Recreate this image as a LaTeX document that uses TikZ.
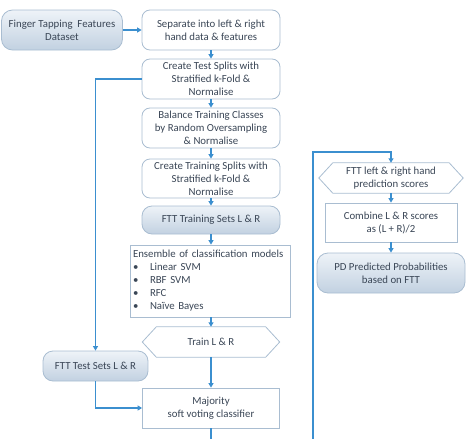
\documentclass[tikz,border=0pt]{standalone}
\usepackage{fontspec}
\setmainfont{Carlito}
\usetikzlibrary{arrows.meta,calc}
\definecolor{txt}{HTML}{3A4656}
\definecolor{bord}{HTML}{A9BDD1}
\definecolor{conn}{HTML}{3B8FCF}
\definecolor{gtop}{HTML}{EEF3F8}
\definecolor{gbot}{HTML}{C2D1E1}
\tikzset{
  base/.style={inner sep=0pt, align=center, text=txt, font=\fontsize{10.8}{13}\selectfont},
  whitebox/.style={base, draw=bord, line width=0.8pt, rounded corners=8pt, fill=white},
  gradbox/.style={base, draw=bord, line width=0.8pt, rounded corners=11pt, top color=gtop, bottom color=gbot},
  rectbox/.style={base, draw=bord, line width=0.8pt, fill=white},
  hexnode/.style={base},
  hexline/.style={draw=bord, line width=0.8pt},
  link/.style={draw=conn, line width=1.1pt, -{Triangle[width=5pt,length=4.5pt]}},
}
\begin{document}
\begin{tikzpicture}[x=1pt,y=-1pt]
\useasboundingbox (0,0) rectangle (474,439);
% left column
\node[gradbox, minimum width=121pt, minimum height=40pt] (fin) at (62,30) {Finger Tapping\ \ Features\\Dataset};
\node[whitebox, minimum width=138pt, minimum height=40pt] (sep) at (211,30) {Separate into left \& right\\hand data \& features};
\node[whitebox, minimum width=138pt, minimum height=40pt] (cts) at (211,79) {Create Test Splits with\\Stratified k-Fold \&\\Normalise};
\node[whitebox, minimum width=138pt, minimum height=40pt] (bal) at (211,128) {Balance Training Classes\\by Random Oversampling\\\& Normalise};
\node[whitebox, minimum width=138pt, minimum height=39pt] (ctr) at (211,178.5) {Create Training Splits with\\Stratified k-Fold \&\\Normalise};
\node[gradbox, minimum width=138pt, minimum height=28pt, rounded corners=10pt] (fts) at (211,220) {FTT Training Sets L \& R};
\node[rectbox, minimum width=160pt, minimum height=72pt, text width=154pt, align=left, inner xsep=3pt] (ens) at (210,281) {Ensemble of classification models\\
\makebox[17pt][l]{\textbullet}Linear SVM\\
\makebox[17pt][l]{\textbullet}RBF SVM\\
\makebox[17pt][l]{\textbullet}RFC\\
\makebox[17pt][l]{\textbullet}Naïve Bayes};
\node[hexnode, minimum width=137pt, minimum height=30pt] (trn) at (211,342) {Train L \& R};
\draw[hexline] (trn.west) -- ([xshift=14pt]trn.north west) -- ([xshift=-14pt]trn.north east) -- (trn.east) -- ([xshift=-14pt]trn.south east) -- ([xshift=14pt]trn.south west) -- cycle;
\node[gradbox, minimum width=105pt, minimum height=30pt, rounded corners=10pt] (fte) at (95.5,366) {FTT Test Sets L \& R};
\node[rectbox, minimum width=137pt, minimum height=40pt] (maj) at (211,408) {Majority\\soft voting classifier};
% right column
\node[hexnode, minimum width=144pt, minimum height=30pt] (flr) at (391,178) {FTT left \& right hand\\prediction scores};
\draw[hexline] (flr.west) -- ([xshift=14pt]flr.north west) -- ([xshift=-14pt]flr.north east) -- (flr.east) -- ([xshift=-14pt]flr.south east) -- ([xshift=14pt]flr.south west) -- cycle;
\node[rectbox, minimum width=132pt, minimum height=39pt] (cmb) at (391,222.5) {Combine L \& R scores\\as (L + R)/2};
\node[gradbox, minimum width=148pt, minimum height=40pt] (pdp) at (391,273) {PD Predicted Probabilities\\based on FTT};
% connectors
\draw[link] (fin) -- (sep);
\draw[link] (sep) -- (cts);
\draw[link] (cts) -- (bal);
\draw[link] (bal) -- (ctr);
\draw[link] (ctr) -- (fts);
\draw[link] (fts.south) -- (fts.south |- ens.north);
\draw[link] (ens.south -| trn.north) -- (trn.north);
\draw[link] (trn.south) -- (maj.north);
\draw[link] (cts.west) -| (fte.north);
\draw[link] (fte.south) |- (maj.west);
\coordinate (bot) at (313,460);
\coordinate (topc) at (313,152);
\draw[link] (maj.south) |- (bot) -- (topc) -| (flr.north);
\draw[link] (flr.south) -- (cmb.north);
\draw[link] (cmb.south) -- (pdp.north);
\end{tikzpicture}
\end{document}
